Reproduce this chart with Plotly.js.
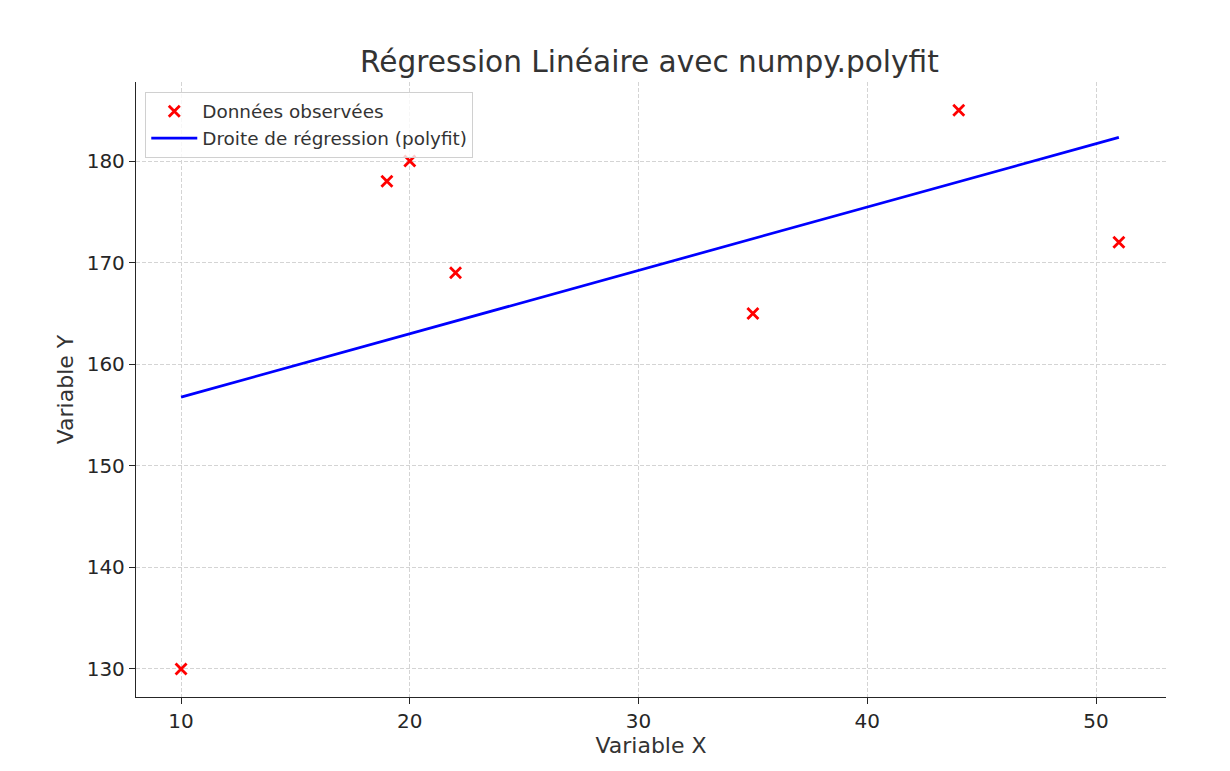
<!DOCTYPE html>
<html><head><meta charset="utf-8">
<script src="https://cdn.plot.ly/plotly-3.0.1.min.js"></script>
<style>body{margin:0;background:#fff}#chart{width:1230px;height:771px}</style>
</head><body><div id="chart"></div>
<script>
const obsX = [10, 19, 20, 22, 35, 44, 51];
const obsY = [130, 178, 180, 169, 165, 185, 172];
const fitX = [10, 51];
const fitY = [156.76, 182.33];
const xTicks = [10, 20, 30, 40, 50];
const yTicks = [130, 140, 150, 160, 170, 180];

const font = "DejaVu Sans, sans-serif";
const data = [
  {x: obsX, y: obsY, mode: 'markers', type: 'scatter', name: 'Données observées',
   marker: {symbol: 'x-thin-open', size: 11, color: 'red', line: {color: 'red', width: 2.8}}},
  {x: fitX, y: fitY, mode: 'lines', type: 'scatter', name: 'Droite de régression (polyfit)',
   line: {color: 'blue', width: 2.7}}
];
const axisCommon = {
  showline: true, linecolor: '#262626', linewidth: 1.3, mirror: false,
  ticks: 'outside', ticklen: 6, tickwidth: 1.3, tickcolor: '#262626',
  showgrid: true, gridcolor: '#d4d4d4', griddash: '4px,2px', gridwidth: 1,
  zeroline: false, tickfont: {family: font, size: 20, color: '#262626'}
};
const layout = {
  width: 1230, height: 771,
  margin: {l: 136, r: 64, t: 82, b: 74},
  paper_bgcolor: '#fff', plot_bgcolor: '#fff',
  title: {text: 'Régression Linéaire avec numpy.polyfit', font: {family: font, size: 29.6, color: '#333333'},
          x: 0.528, xref: 'container', xanchor: 'center', y: 0.92, yref: 'container', yanchor: 'middle'},
  xaxis: Object.assign({}, axisCommon, {range: [8.03, 53.06], tickvals: xTicks,
    title: {text: 'Variable X', font: {family: font, size: 22, color: '#333333'}, standoff: 1}}),
  yaxis: Object.assign({}, axisCommon, {range: [127.24, 187.78], tickvals: yTicks,
    title: {text: 'Variable Y', font: {family: font, size: 22, color: '#333333'}, standoff: 6}}),
  showlegend: true,
  legend: {x: 0.009, y: 0.984, xanchor: 'left', yanchor: 'top', bgcolor: 'rgba(255,255,255,0.8)',
           bordercolor: '#d0d0d0', borderwidth: 1, font: {family: font, size: 18.4, color: '#333333'},
           itemwidth: 46, tracegroupgap: 4}
};
Plotly.newPlot('chart', data, layout, {displayModeBar: false});
</script></body></html>
